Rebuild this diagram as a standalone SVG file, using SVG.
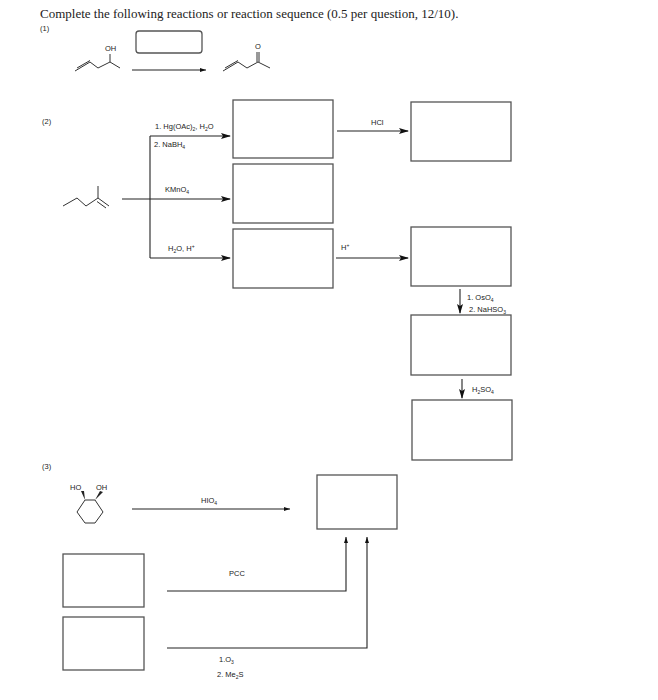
<svg xmlns="http://www.w3.org/2000/svg" width="658" height="700" viewBox="0 0 658 700">
<style>
.b{fill:none;stroke:#555;stroke-width:1.3}
.l{fill:none;stroke:#222;stroke-width:1.1}
.m{fill:none;stroke:#333;stroke-width:1}
text{font-family:"Liberation Sans",Arial,sans-serif;font-size:7.5px;fill:#222}
.t{font-family:"Liberation Serif","Times New Roman",serif;font-size:13px}
</style>
<defs><marker id="a" markerWidth="10" markerHeight="6" refX="9" refY="3" orient="auto" markerUnits="userSpaceOnUse"><path d="M0,0L10,3L0,6L2,3z" fill="#111"/></marker>
<marker id="s" markerWidth="6" markerHeight="4" refX="6" refY="2" orient="auto" markerUnits="userSpaceOnUse"><path d="M0,0L6,2L0,4z" fill="#111"/></marker></defs>
<rect width="658" height="700" fill="#fff"/>
<text class="t" x="40" y="18">Complete the following reactions or reaction sequence (0.5 per question, 12/10).</text>
<text x="40" y="31">(1)</text><text x="42" y="124">(2)</text><text x="42" y="469">(3)</text>
<g id="mol1a"><path class="m" d="M75,71L90,62L98,68L110,62L120,68M77,68L90,60.5M110,62V54"/><text x="105" y="51">OH</text></g>
<g id="mol1b"><path class="m" d="M223,71L238,62L247,68L258,62L270,68M225,68L238,60.5M257,62V52M259,62V52"/><text x="255" y="49">O</text></g>
<g id="box1"><rect class="b" x="136" y="31" width="66" height="22" rx="3"/></g>
<g id="mol2"><path class="m" d="M63,206L77,198L86,206L98,198L109,206M98,198V186M97,201.5L106,208"/></g>
<g id="b2a"><rect class="b" x="233" y="100" width="100" height="58"/></g>
<g id="b2b"><rect class="b" x="233" y="164" width="100" height="59"/></g>
<g id="b2c"><rect class="b" x="233" y="229" width="100" height="59"/></g>
<g id="b2d"><rect class="b" x="411" y="102" width="100" height="59"/></g>
<g id="b2e"><rect class="b" x="411" y="227" width="100" height="59"/></g>
<g id="b2f"><rect class="b" x="411" y="315" width="100" height="60"/></g>
<g id="b2g"><rect class="b" x="412" y="400" width="100" height="60"/></g>
<g id="mol3"><path class="m" d="M85,500L95,500L103,512L95,523L85,523L77,512Z"/><path d="M85,500L81,491L84,491Z M95,500L100,491L103,492Z" fill="#222"/><text x="70" y="490">HO</text><text x="96" y="490">OH</text></g>
<g id="b3a"><rect class="b" x="317" y="475" width="80" height="54"/></g>
<g id="b3b"><rect class="b" x="63" y="554" width="81" height="53"/></g>
<g id="b3c"><rect class="b" x="63" y="617" width="81" height="53"/></g>
<g id="connectors">
<path class="l" d="M132,70H206" marker-end="url(#s)"/>
<path class="l" d="M150,136V258"/>
<path class="l" d="M122,199H230" marker-end="url(#a)"/>
<path class="l" d="M150,136H230" marker-end="url(#a)"/>
<path class="l" d="M150,258H230" marker-end="url(#a)"/>
<path class="l" d="M337,131H408" marker-end="url(#a)"/>
<path class="l" d="M336,258H408" marker-end="url(#a)"/>
<path class="l" d="M460,289V313" marker-end="url(#a)"/>
<path class="l" d="M462,379V398" marker-end="url(#a)"/>
<path class="l" d="M132,509H290" marker-end="url(#s)"/>
<path class="l" d="M167,591H346V537" marker-end="url(#s)"/>
<path class="l" d="M167,648H367V537" marker-end="url(#s)"/>
</g>
<g id="labels">
<text x="155" y="129">1. Hg(OAc)<tspan font-size="5" dy="2">2</tspan><tspan dy="-2">, H</tspan><tspan font-size="5" dy="2">2</tspan><tspan dy="-2">O</tspan></text>
<text x="154" y="147">2. NaBH<tspan font-size="5" dy="2">4</tspan></text>
<text x="165" y="192">KMnO<tspan font-size="5" dy="2">4</tspan></text>
<text x="168" y="251">H<tspan font-size="5" dy="2">2</tspan><tspan dy="-2">O, H</tspan><tspan font-size="5" dy="-3">+</tspan></text>
<text x="371" y="125">HCl</text>
<text x="341" y="250">H<tspan font-size="5" dy="-3">+</tspan></text>
<text x="467" y="300">1. OsO<tspan font-size="5" dy="2">4</tspan></text>
<text x="469" y="312">2. NaHSO<tspan font-size="5" dy="2">3</tspan></text>
<text x="472" y="392">H<tspan font-size="5" dy="2">2</tspan><tspan dy="-2">SO</tspan><tspan font-size="5" dy="2">4</tspan></text>
<text x="201" y="503">HIO<tspan font-size="5" dy="2">4</tspan></text>
<text x="229" y="576">PCC</text>
<text x="219" y="662">1.O<tspan font-size="5" dy="2">3</tspan></text>
<text x="217" y="677">2. Me<tspan font-size="5" dy="2">2</tspan><tspan dy="-2">S</tspan></text>
</g>
</svg>
